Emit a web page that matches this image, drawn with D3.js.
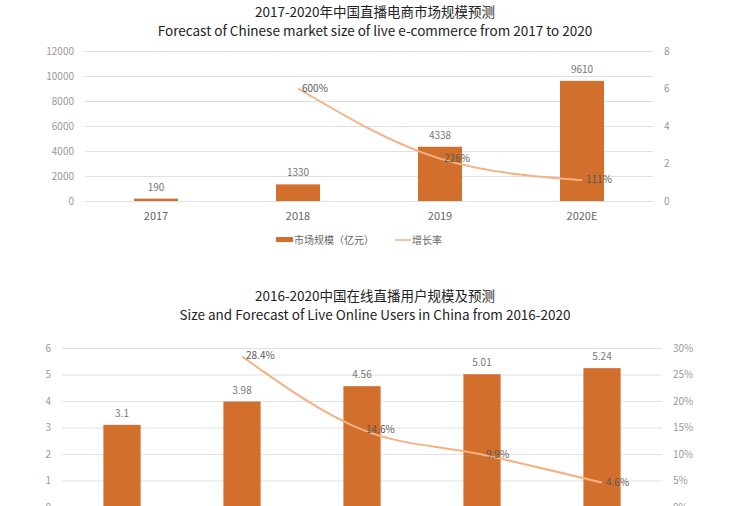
<!DOCTYPE html>
<html>
<head>
<meta charset="utf-8">
<script src="https://cdn.jsdelivr.net/npm/d3@7"></script>
<style>
  body { margin: 0; background: #fff; }
  svg text { font-family: "Noto Sans CJK SC", "Noto Sans", sans-serif; }
</style>
</head>
<body>
<div id="chart"></div>
<script>
// chart 1 data: live e-commerce market size (亿元) and growth
var years1 = ["2017", "2018", "2019", "2020E"];
var market1 = [190, 1330, 4338, 9610];
var growth1 = [null, 6.00, 2.26, 1.11];
var growthLabels1 = [null, "600%", "226%", "111%"];
var leftTicks1 = [0, 2000, 4000, 6000, 8000, 10000, 12000];
var rightTicks1 = [0, 2, 4, 6, 8];

// chart 2 data: live online users (亿) and growth
var years2 = ["2016", "2017", "2018", "2019", "2020E"];
var users2 = [3.1, 3.98, 4.56, 5.01, 5.24];
var growth2 = [null, 0.284, 0.146, 0.099, 0.046];
var growthLabels2 = [null, "28.4%", "14.6%", "9.9%", "4.6%"];
var leftTicks2 = [0, 1, 2, 3, 4, 5, 6];
var rightTicks2 = [0, 0.05, 0.10, 0.15, 0.20, 0.25, 0.30];

var barColor = "#d26f2d", lineColor = "#f4b183", gridColor = "#e0e0e0",
    tickColor = "#999", labelColor = "#595959";

var svg = d3.select("#chart").append("svg")
    .attr("width", 750).attr("height", 506);

function drawChart(cfg) {
    var x = d3.scaleBand().domain(cfg.cats).range([cfg.x0, cfg.x1]).paddingInner(0.69).paddingOuter(0.345);
    var band = d3.scaleBand().domain(cfg.cats).range([cfg.x0, cfg.x1]);
    var yL = d3.scaleLinear().domain(cfg.leftDomain).range([cfg.y0, cfg.y1]);
    var yR = d3.scaleLinear().domain(cfg.rightDomain).range([cfg.y0, cfg.y1]);
    var g = svg.append("g");

    // titles
    g.selectAll("text.title").data(cfg.titles).enter().append("text")
        .attr("class", "title")
        .attr("x", 375).attr("y", function(d, i) { return cfg.titleY + i * 18.5; })
        .attr("text-anchor", "middle")
        .style("font-size", "13.5px").style("fill", "#222")
        .text(function(d) { return d; });

    // gridlines
    g.selectAll("line.grid").data(cfg.leftTicks).enter().append("line")
        .attr("x1", cfg.x0).attr("x2", cfg.x1)
        .attr("y1", function(d) { return yL(d) + 0.5; })
        .attr("y2", function(d) { return yL(d) + 0.5; })
        .style("stroke", gridColor).style("stroke-width", 1);

    // left axis
    var left = g.append("g").attr("transform", "translate(" + (cfg.x0 - 11) + ",0)")
        .call(d3.axisLeft(yL).tickValues(cfg.leftTicks).tickSize(0).tickPadding(0).tickFormat(d3.format("d")));
    left.select(".domain").remove();
    left.selectAll("text").style("fill", tickColor).style("font-size", "10px");

    // right axis
    var right = g.append("g").attr("transform", "translate(" + (cfg.x1 + 11) + ",0)")
        .call(d3.axisRight(yR).tickValues(cfg.rightTicks).tickSize(0).tickPadding(0).tickFormat(cfg.rightFormat));
    right.select(".domain").remove();
    right.selectAll("text").style("fill", tickColor).style("font-size", "10px");

    // category axis (second chart's is below the visible area)
    if (cfg.showCats) {
        var bottom = g.append("g").attr("transform", "translate(0," + cfg.y0 + ")")
            .call(d3.axisBottom(band).tickSize(0).tickPadding(11));
        bottom.select(".domain").remove();
        bottom.selectAll("text").style("fill", "#666").style("font-size", "11px");
    }

    // bars
    g.selectAll("rect.bar").data(cfg.bars).enter().append("rect")
        .attr("class", "bar")
        .attr("x", function(d, i) { return x(cfg.cats[i]); })
        .attr("width", x.bandwidth())
        .attr("y", function(d) { return yL(d); })
        .attr("height", function(d) { return cfg.y0 - yL(d); })
        .style("fill", barColor);

    g.selectAll("text.barlabel").data(cfg.bars).enter().append("text")
        .attr("x", function(d, i) { return band(cfg.cats[i]) + band.bandwidth() / 2; })
        .attr("y", function(d) { return yL(d) - 8; })
        .attr("text-anchor", "middle")
        .style("font-size", "10px").style("fill", "#777")
        .text(function(d) { return d; });

    // growth line
    var pts = cfg.line.map(function(d, i) {
        return {v: d, x: band(cfg.cats[i]) + band.bandwidth() / 2, lab: cfg.lineLabels[i]};
    }).filter(function(d) { return d.v !== null; });

    var line = d3.line().x(function(d) { return d.x; }).y(function(d) { return yR(d.v); })
        .curve(d3.curveMonotoneX);
    g.append("path").datum(pts).attr("d", line)
        .style("fill", "none").style("stroke", lineColor).style("stroke-width", 2);

    g.selectAll("text.linelabel").data(pts).enter().append("text")
        .attr("x", function(d) { return d.x + 4; })
        .attr("y", function(d) { return yR(d.v); })
        .attr("dy", "0.3em")
        .style("font-size", "10px").style("fill", labelColor)
        .text(function(d) { return d.lab; });

    // legend
    if (cfg.legendY) {
        var lg = g.append("g");
        lg.append("rect").attr("x", 276).attr("y", cfg.legendY - 3).attr("width", 17).attr("height", 5)
            .style("fill", barColor);
        lg.append("text").attr("x", 294).attr("y", cfg.legendY).attr("dy", "0.35em")
            .style("font-size", "10px").style("fill", "#666").text("市场规模（亿元）");
        lg.append("line").attr("x1", 395).attr("x2", 411).attr("y1", cfg.legendY).attr("y2", cfg.legendY)
            .style("stroke", lineColor).style("stroke-width", 1.5);
        lg.append("text").attr("x", 412).attr("y", cfg.legendY).attr("dy", "0.35em")
            .style("font-size", "10px").style("fill", "#666").text("增长率");
    }
}

drawChart({
    titles: ["2017-2020年中国直播电商市场规模预测", "Forecast of Chinese market size of live e-commerce from 2017 to 2020"],
    titleY: 17,
    cats: years1, bars: market1, line: growth1, lineLabels: growthLabels1,
    x0: 85, x1: 653, y0: 201, y1: 51,
    leftDomain: [0, 12000], rightDomain: [0, 8],
    leftTicks: leftTicks1, rightTicks: rightTicks1,
    rightFormat: d3.format("d"),
    showCats: true,
    legendY: 240
});

drawChart({
    titles: ["2016-2020中国在线直播用户规模及预测", "Size and Forecast of Live Online Users in China from 2016-2020"],
    titleY: 301,
    cats: years2, bars: users2, line: growth2, lineLabels: growthLabels2,
    x0: 62, x1: 662, y0: 507, y1: 348,
    leftDomain: [0, 6], rightDomain: [0, 0.30],
    leftTicks: leftTicks2, rightTicks: rightTicks2,
    rightFormat: d3.format(".0%"),
    showCats: false,
    legendY: null
});
</script>
</body>
</html>
